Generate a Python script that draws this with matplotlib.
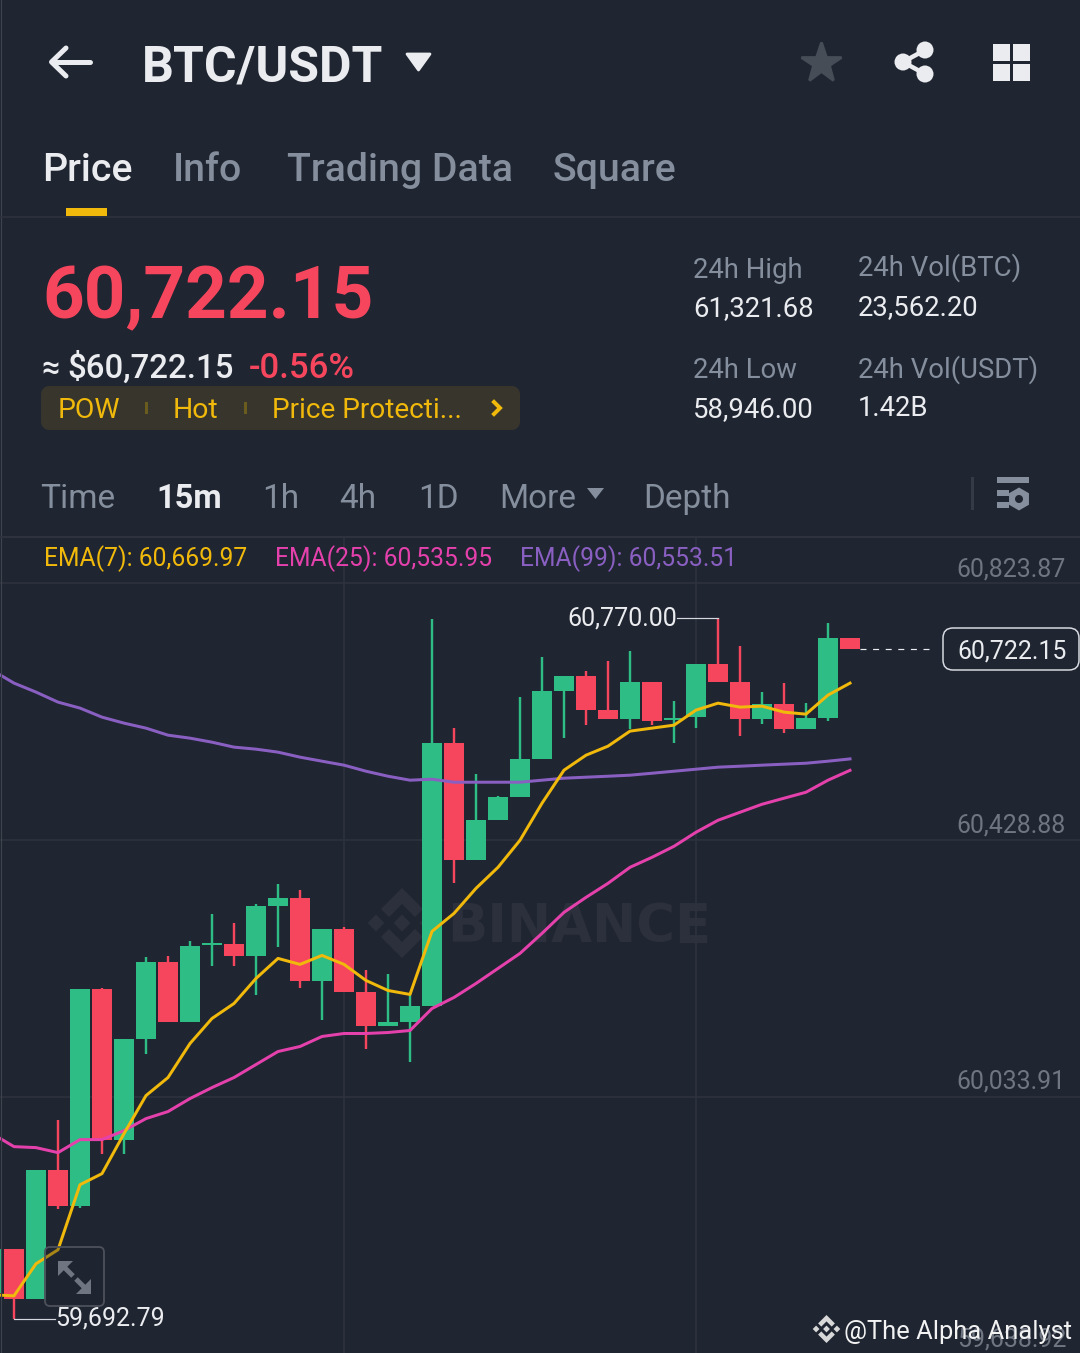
import numpy as np
import matplotlib
matplotlib.use("Agg")
import matplotlib.pyplot as plt
from matplotlib.patches import Rectangle, FancyBboxPatch, Polygon, Circle, RegularPolygon

plt.rcParams['font.family'] = ['Roboto', 'DejaVu Sans']

# ---------- data ----------
opens = [59733.0, 59800.7, 59723.7, 59922.2, 59866.8, 60199.2, 59968.4, 60122.3, 60240.7, 60148.4,
         60266.9, 60268.4, 60250.0, 60326.9, 60339.2, 60211.5, 60291.5, 60194.6, 60142.3, 60148.4,
         60173.0, 60577.7, 60397.7, 60459.2, 60494.6, 60553.1, 60657.7, 60680.8, 60628.5, 60614.6,
         60671.5, 60613.1, 60617.7, 60699.2, 60671.5, 60614.6, 60637.7, 60599.2, 60616.2, 60739.2]
highs = [59800.7, 59800.7, 59922.2, 59999.2, 60199.2, 60200.7, 60122.3, 60248.4, 60250.0, 60273.0,
         60314.6, 60300.7, 60330.0, 60360.8, 60351.5, 60291.5, 60294.6, 60228.4, 60222.3, 60193.0,
         60768.5, 60600.8, 60530.0, 60496.2, 60648.5, 60710.0, 60680.8, 60688.5, 60703.9, 60719.2,
         60671.5, 60642.3, 60699.2, 60770.0, 60726.9, 60656.2, 60670.0, 60639.2, 60762.3, 60739.2]
lows = [59733.0, 59692.79, 59723.7, 59862.2, 59863.8, 59946.8, 59946.8, 60100.7, 60148.4, 60148.4,
        60234.6, 60234.6, 60190.0, 60263.8, 60200.7, 60151.5, 60194.6, 60108.4, 60142.3, 60088.4,
        60173.0, 60362.3, 60397.7, 60459.2, 60494.6, 60553.1, 60585.4, 60605.4, 60614.6, 60599.2,
        60605.4, 60577.7, 60600.8, 60671.5, 60588.5, 60606.9, 60593.1, 60599.2, 60611.5, 60722.15]
closes = [59800.7, 59723.7, 59922.2, 59866.8, 60199.2, 59968.4, 60122.3, 60240.7, 60148.4, 60265.4,
          60270.0, 60250.0, 60326.9, 60339.2, 60211.5, 60291.5, 60194.6, 60142.3, 60148.4, 60173.0,
          60577.7, 60397.7, 60459.2, 60494.6, 60553.1, 60657.7, 60680.8, 60628.5, 60614.6, 60671.5,
          60611.5, 60616.2, 60699.2, 60671.5, 60614.6, 60637.7, 60599.2, 60616.2, 60739.2, 60722.15]
ema7 = [59729.9, 59728.3, 59777.6, 59799.1, 59899.1, 59916.1, 59977.6, 60036.1, 60063.8, 60116.1,
        60154.6, 60177.6, 60216.1, 60246.9, 60237.7, 60251.5, 60237.7, 60213.0, 60197.6, 60191.5,
        60288.4, 60316.1, 60354.6, 60386.9, 60428.5, 60485.4, 60536.2, 60559.2, 60573.1, 60596.2,
        60600.8, 60605.4, 60628.5, 60639.2, 60633.1, 60634.6, 60625.4, 60622.3, 60651.6, 60669.97]
ema25 = [59977.6, 59957.6, 59956.1, 59948.4, 59968.4, 59968.4, 59982.2, 60000.7, 60011.5, 60031.5,
         60048.4, 60063.8, 60083.8, 60103.8, 60111.5, 60126.9, 60131.5, 60131.5, 60133.0, 60136.1,
         60169.9, 60186.9, 60208.4, 60231.5, 60254.6, 60285.4, 60317.7, 60340.7, 60362.3, 60386.9,
         60402.3, 60419.2, 60440.8, 60459.2, 60471.5, 60483.8, 60493.1, 60502.3, 60520.8, 60535.95]
ema99 = [60690.0, 60670.0, 60656.2, 60640.8, 60631.6, 60617.7, 60608.5, 60600.8, 60590.0, 60585.4,
         60579.2, 60571.6, 60568.5, 60563.9, 60556.2, 60550.0, 60543.9, 60534.6, 60526.9, 60520.8,
         60522.3, 60517.7, 60517.7, 60517.7, 60517.7, 60520.8, 60523.9, 60525.4, 60526.9, 60528.5,
         60531.5, 60534.6, 60537.7, 60540.8, 60542.3, 60543.9, 60545.4, 60546.9, 60550.0, 60553.51]
axis_ticks = [60823.87, 60428.88, 60033.91, 59638.92]
axis_labels = ['60,823.87', '60,428.88', '60,033.91', '59,638.92']
tabs = ['Price', 'Info', 'Trading Data', 'Square']
intervals = ['Time', '15m', '1h', '4h', '1D', 'More', 'Depth']

# ---------- style ----------
BG = '#1F2531'
LINE = '#2D323E'
GREEN = '#2EBD85'
RED = '#F6465D'
YEL = '#F0B90B'
PINK = '#E541AC'
PURP = '#8A5FC2'
GREY = '#848E9C'
WHITE = '#EAECEF'
AXT = '#6F7682'
W, H = 1080, 1353
PXS = 72 / 100  # points per pixel

fig = plt.figure(figsize=(W / 100, H / 100), dpi=100, facecolor=BG)


def overlay(z):
    a = fig.add_axes([0, 0, 1, 1], zorder=z, facecolor='none')
    a.set_xlim(0, W)
    a.set_ylim(H, 0)
    a.axis('off')
    return a


back = overlay(0)
front = overlay(3)

# chart axes: candle i sits at pixel 14 + 22 i
PX_PER_BAR = 22.0
PX_PER_PRICE = (840.0 - 583.0) / (axis_ticks[0] - axis_ticks[1])
top_px, bot_px = 537, H
ax = fig.add_axes([0, 0, 1, (bot_px - top_px) / H], zorder=2, facecolor='none')
ax.set_xlim(-14 / PX_PER_BAR, (W - 14) / PX_PER_BAR)
ax.set_ylim(axis_ticks[0] - (bot_px - 583) / PX_PER_PRICE, axis_ticks[0] + (583 - top_px) / PX_PER_PRICE)
ax.axis('off')

o, h, l, c = map(np.array, (opens, highs, lows, closes))
xs = np.arange(len(o)) - 1
col = np.where(c >= o, GREEN, RED)
ax.vlines(xs, l, h, colors=col, lw=2.4 * PXS, zorder=2)
ax.bar(xs, np.abs(c - o), bottom=np.minimum(o, c), width=0.88, color=col, lw=0, zorder=3)
ax.plot(xs, ema99, color=PURP, lw=3 * PXS, zorder=4, solid_joinstyle='round')
ax.plot(xs, ema25, color=PINK, lw=3 * PXS, zorder=4, solid_joinstyle='round')
ax.plot(xs, ema7, color=YEL, lw=3 * PXS, zorder=5, solid_joinstyle='round')

# grid
for v in axis_ticks[:3]:
    ax.axhline(v, color=LINE, lw=1.6 * PXS, zorder=1)
for i in (15, 31):
    ax.axvline(i, color=LINE, lw=1.6 * PXS, zorder=1)
ax.axhline(axis_ticks[3] + 0.0, color=LINE, lw=1.6 * PXS, zorder=1)

# high / low leaders
ih, il = int(np.argmax(h)), int(np.argmin(l))
ax.plot([xs[ih], xs[ih] - 41 / PX_PER_BAR], [h[ih], h[ih]], color='#D5D9DF', lw=1.2 * PXS, zorder=6)
ax.plot([xs[il], xs[il] + 41 / PX_PER_BAR], [l[il], l[il]], color='#D5D9DF', lw=1.2 * PXS, zorder=6)
ax.text(xs[ih] - 41 / PX_PER_BAR, h[ih] + 2.5 / PX_PER_PRICE, f'{h[ih]:,.2f}', color=WHITE, fontsize=18, ha='right', va='center_baseline', zorder=6)
ax.text(xs[il] + 41.5 / PX_PER_BAR, l[il] + 3 / PX_PER_PRICE, f'{l[il]:,.2f}', color=WHITE, fontsize=18, ha='left', va='center_baseline', zorder=6)
# last price dashed line
ax.plot([xs[-1] + 0.45, (932 - 14) / PX_PER_BAR], [c[-1], c[-1]], color=WHITE, lw=1.2 * PXS, ls=(0, (5, 5.5)), zorder=6)


def T(a, x, y, s, color=WHITE, size=20, weight='normal', ha='left', va='baseline', **kw):
    return a.text(x, y, s, color=color, fontsize=size, fontweight=weight, ha=ha, va=va, **kw)


def logo(a, cx, cy, k, color, z=1):
    pts_top = [(0, -35), (21, -14), (13, -6), (0, -19), (-13, -6), (-21, -14)]
    d = 8.5
    a.add_patch(Polygon([(cx + k * p, cy + k * q) for p, q in pts_top], fc=color, lw=0, zorder=z))
    a.add_patch(Polygon([(cx + k * p, cy - k * q) for p, q in pts_top], fc=color, lw=0, zorder=z))
    for ox in (-26, 0, 26):
        a.add_patch(Polygon([(cx + k * (ox + p), cy + k * q) for p, q in [(0, -d), (d, 0), (0, d), (-d, 0)]],
                            fc=color, lw=0, zorder=z))


# watermark behind the candles
logo(back, 402, 923, 1.0, '#2C303C')
T(back, 447, 942, 'BINANCE', color='#2C303C', size=38, weight='bold', family='DejaVu Sans')

# ---------- chrome ----------
front.plot([0.5, 0.5], [0, H], color='#3E434E', lw=1.2 * PXS)
front.plot([0, W], [216.5, 216.5], color=LINE, lw=1.6 * PXS)
front.plot([0, W], [537, 537], color=LINE, lw=2 * PXS)

# header
front.plot([53, 90], [62, 62], color=WHITE, lw=5 * PXS, solid_capstyle='round')
front.plot([66, 51.5, 66], [48, 62, 76], color=WHITE, lw=5 * PXS, solid_capstyle='round', solid_joinstyle='round')
T(front, 142, 82, 'BTC/USDT', size=36, weight='bold')
front.add_patch(Polygon([(407, 54), (430, 54), (418.5, 70)], fc=WHITE, ec=WHITE, lw=2, joinstyle='round'))
front.plot([821], [63], marker='*', ms=30, color='#474D57', mec='#474D57', mew=2)
front.plot([925, 903, 925], [50, 62, 74], color=WHITE, lw=4.5 * PXS)
for cx, cy in [(925, 50), (903, 62), (925, 74)]:
    front.add_patch(Circle((cx, cy), 8.5, fc=WHITE, lw=0))
for x0, y0 in [(993, 44), (1013, 44), (993, 64), (1013, 64)]:
    front.add_patch(Rectangle((x0, y0), 17, 16.5, fc=WHITE, lw=0))

# tabs
for s, x, cc in zip(tabs, (42, 173, 287, 553), (WHITE, GREY, GREY, GREY)):
    T(front, x, 181, s, color=cc, size=28.3, weight='medium')
front.add_patch(Rectangle((66, 208), 41, 8, fc=YEL, lw=0))

# price block
T(front, 42, 318, '60,722.15', color=RED, size=52.5, weight='bold')
T(front, 41, 378, '≈', size=23, weight='medium')
T(front, 67, 378, '$60,722.15', size=23.8, weight='medium')
T(front, 249, 378, '-0.56%', color=RED, size=25, weight='medium')
front.add_patch(FancyBboxPatch((49, 394), 463, 28, boxstyle='round,pad=0,rounding_size=0', fc='#38362C', ec='#38362C', lw=16 * PXS, joinstyle='round'))
T(front, 58, 418, 'POW', color=YEL, size=20.4)
T(front, 173, 418, 'Hot', color=YEL, size=20.4)
T(front, 272, 418, 'Price Protecti...', color=YEL, size=20.2)
for x in (146.5, 245.5):
    front.add_patch(Rectangle((x - 1.5, 402), 3, 12, fc='#6A5C1E', lw=0))
front.plot([494, 500, 494], [402, 408, 414], color=YEL, lw=4 * PXS, solid_joinstyle='miter')

# stats
for x, y, s, cc in [(693, 278, '24h High', GREY), (693, 316, '61,321.68', WHITE), (693, 378.5, '24h Low', GREY), (693, 417, '58,946.00', WHITE),
                    (858, 276, '24h Vol(BTC)', GREY), (858, 315, '23,562.20', WHITE), (858, 377.5, '24h Vol(USDT)', GREY), (858, 416, '1.42B', WHITE)]:
    T(front, x, y, s, color=cc, size=19.8)

# interval row
for s, x in zip(intervals, (40, 156, 262, 339, 418, 499, 643)):
    if s == '15m':
        T(front, x, 508, s, color=WHITE, size=23.5, weight='bold')
    else:
        T(front, x, 508, s, color=GREY, size=24)
front.add_patch(Polygon([(587, 488), (604, 488), (595.5, 499)], fc=GREY, lw=0))
front.add_patch(Rectangle((971, 477), 3, 33, fc='#343A46', lw=0))
front.add_patch(Rectangle((997, 477), 32, 6, fc=GREY, lw=0))
front.add_patch(Rectangle((997, 490), 12, 5.5, fc=GREY, lw=0))
front.add_patch(Rectangle((997, 502), 12, 5.5, fc=GREY, lw=0))
front.add_patch(RegularPolygon((1019, 499), 6, radius=11.5, fc=GREY, lw=0))
front.add_patch(Circle((1019, 499), 4, fc=BG, lw=0))

# EMA legend
T(front, 44, 566.5, f'EMA(7): {ema7[-1]:,.2f}', color=YEL, size=17.75)
T(front, 275, 566.5, f'EMA(25): {ema25[-1]:,.2f}', color=PINK, size=17.75)
T(front, 520, 566.5, f'EMA(99): {ema99[-1]:,.2f}', color=PURP, size=17.75)

# price-axis labels
for s, y in zip(axis_labels, (576, 833, 1089, 1346)):
    T(front, 1066, y, s, color=AXT, size=17.9, ha='right')

# last-price tag
front.add_patch(FancyBboxPatch((951, 636), 120, 26, boxstyle='round,pad=8,rounding_size=10', fc=BG, ec='#D9DCE1', lw=1.5 * PXS, zorder=5))
T(front, 957, 658.5, f'{c[-1]:,.2f}', size=17.9, zorder=6)

# expand button
front.add_patch(FancyBboxPatch((49, 1251), 51, 51, boxstyle='round,pad=4,rounding_size=5', fc=(0.12, 0.145, 0.19, 0.35), ec='#4C515B', lw=1.8 * PXS))
front.add_patch(Polygon([(58, 1261), (73, 1261), (58, 1276)], fc='#6F7682', lw=0))
front.add_patch(Polygon([(91, 1294), (76, 1294), (91, 1279)], fc='#6F7682', lw=0))
front.plot([62, 73], [1265, 1276], color='#6F7682', lw=5 * PXS, solid_capstyle='butt')
front.plot([76, 87], [1279, 1290], color='#6F7682', lw=5 * PXS, solid_capstyle='butt')

# attribution
logo(front, 826.5, 1329, 0.4, '#D8D8D8', z=7)
T(front, 844, 1338.5, '@The Alpha Analyst', color='#F2F2F2', size=18.4, zorder=7)

fig.savefig('out.png', dpi=100, facecolor=BG)
